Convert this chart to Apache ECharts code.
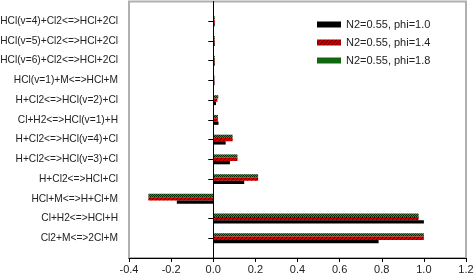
<!DOCTYPE html>
<html>
<head>
<meta charset="utf-8">
<script src="https://cdn.jsdelivr.net/npm/echarts@6/dist/echarts.min.js"></script>
<style>
  html, body { margin: 0; padding: 0; background: #fff; }
  #main { width: 474px; height: 277px; }
</style>
</head>
<body>
<div id="main"></div>
<script>
// reactions, listed top to bottom as in the figure
const reactions = [
  'HCl(v=4)+Cl2<=>HCl+2Cl',
  'HCl(v=5)+Cl2<=>HCl+2Cl',
  'HCl(v=6)+Cl2<=>HCl+2Cl',
  'HCl(v=1)+M<=>HCl+M',
  'H+Cl2<=>HCl(v=2)+Cl',
  'Cl+H2<=>HCl(v=1)+H',
  'H+Cl2<=>HCl(v=4)+Cl',
  'H+Cl2<=>HCl(v=3)+Cl',
  'H+Cl2<=>HCl+Cl',
  'HCl+M<=>H+Cl+M',
  'Cl+H2<=>HCl+H',
  'Cl2+M<=>2Cl+M'
];
const phi10 = [0.007, 0.007, 0.007, 0.006, 0.013, 0.025, 0.059, 0.079, 0.147, -0.173, 1.0, 0.785];
const phi14 = [0.007, 0.007, 0.007, 0.006, 0.020, 0.022, 0.092, 0.115, 0.213, -0.308, 0.975, 1.0];
const phi18 = [0.007, 0.007, 0.007, 0.006, 0.024, 0.022, 0.092, 0.115, 0.213, -0.308, 0.975, 1.0];
const seriesNames = ['N2=0.55, phi=1.0', 'N2=0.55, phi=1.4', 'N2=0.55, phi=1.8'];

// category axis goes bottom -> top, pad with empty slots on both ends
const cats = [''].concat(reactions.slice().reverse(), ['']);
const pad = arr => [null].concat(arr.slice().reverse(), [null]);

function hatch() {
  const c = document.createElement('canvas');
  c.width = 4; c.height = 4;
  const g = c.getContext('2d');
  g.fillStyle = '#d00000';
  g.fillRect(0, 0, 4, 4);
  g.fillStyle = '#200000';
  for (let i = 0; i < 4; i++) g.fillRect(i, 3 - i, 1, 1);
  return c;
}
function dots() {
  const c = document.createElement('canvas');
  c.width = 2; c.height = 2;
  const g = c.getContext('2d');
  g.fillStyle = '#18a018';
  g.fillRect(0, 0, 2, 2);
  g.fillStyle = '#063006';
  g.fillRect(0, 0, 1, 1);
  g.fillRect(1, 1, 1, 1);
  return c;
}

const colors = ['#000000', { image: hatch(), repeat: 'repeat' }, { image: dots(), repeat: 'repeat' }];
const values = [phi10, phi14, phi18];

const chart = echarts.init(document.getElementById('main'));

const font = { fontFamily: 'Liberation Sans, Arial, sans-serif', fontSize: 10.2, color: '#222' };

// horizontal bars stack first series at top, so add them in reverse order
const order = [2, 1, 0];

chart.setOption({
  animation: false,
  grid: {
    left: 129, right: 8, top: 1.5, bottom: 19,
    outerBoundsMode: 'none',
    containLabel: false,
    show: true, borderColor: '#b0b0b0', borderWidth: 2
  },
  legend: {
    left: 312, top: 14,
    orient: 'vertical',
    itemWidth: 24, itemHeight: 6, itemGap: 7,
    icon: 'rect',
    textStyle: Object.assign({}, font, { fontSize: 11 }),
    data: seriesNames
  },
  xAxis: {
    type: 'value',
    min: -0.4, max: 1.2, interval: 0.2,
    axisLine: { show: true, lineStyle: { color: '#000', width: 1 } },
    axisTick: { show: true, length: 4, lineStyle: { color: '#000' } },
    axisLabel: Object.assign({ margin: 6, formatter: v => v.toFixed(1) }, font, { fontSize: 11 }),
    splitLine: { show: false }
  },
  yAxis: {
    type: 'category',
    data: cats,
    boundaryGap: false,
    axisLine: { show: true, lineStyle: { color: '#000', width: 1 } },
    axisTick: { show: true, length: 5, interval: (i, v) => v !== '', lineStyle: { color: '#000' } },
    axisLabel: Object.assign({ margin: 11, interval: 0 }, font),
    splitLine: { show: false }
  },
  series: order.map(k => ({
    name: seriesNames[k],
    type: 'bar',
    data: pad(values[k]),
    barWidth: 3.3,
    barGap: '0%',
    itemStyle: { color: colors[k] },
    markLine: k === 0 ? {
      silent: true, symbol: 'none',
      label: { show: false },
      lineStyle: { color: '#000', width: 1, type: 'solid' },
      data: [{ xAxis: 0 }]
    } : undefined
  }))
});
</script>
</body>
</html>
